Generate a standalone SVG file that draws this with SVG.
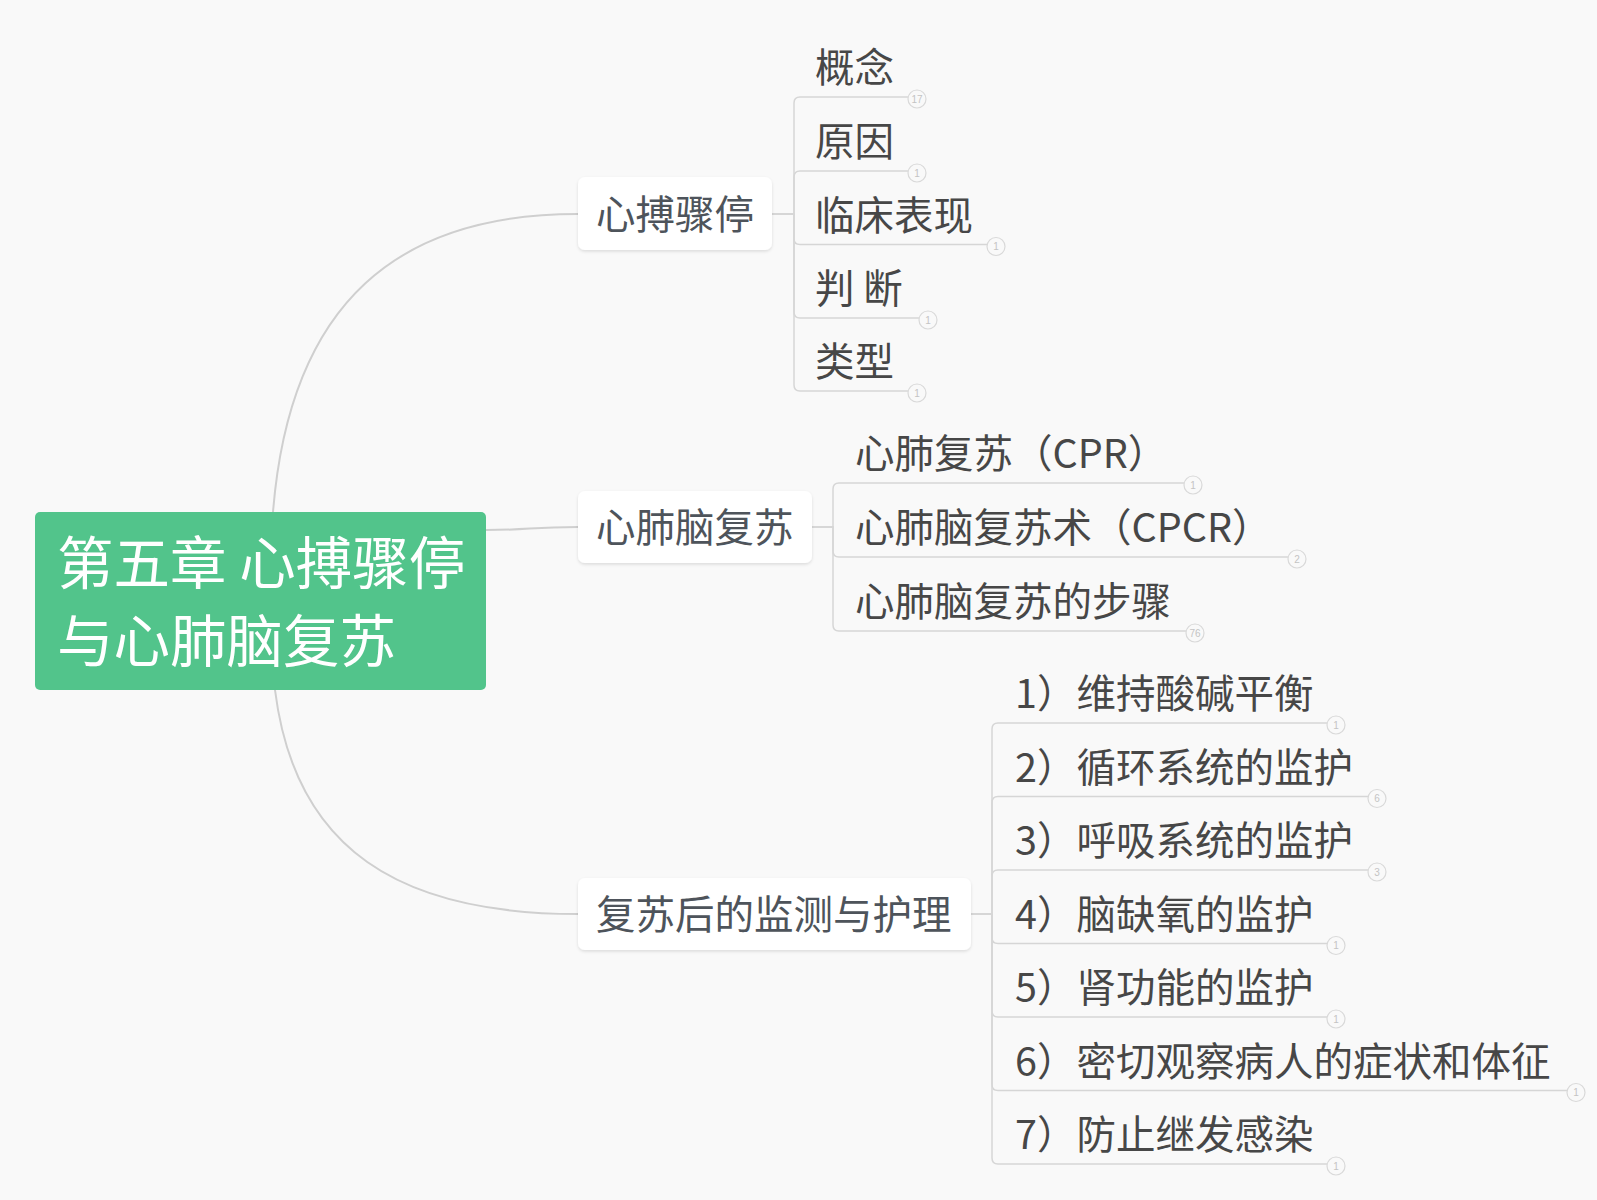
<svg xmlns="http://www.w3.org/2000/svg" width="1597" height="1200" viewBox="0 0 1597 1200">
<style>
.bg{fill:#f9f9f9}
.main{fill:none;stroke:#cfcfcf;stroke-width:2}
.leafline{fill:none;stroke:#d6d6d6;stroke-width:1.5}
.box{fill:#ffffff}
.root{fill:#52c48b}
.rt{font-family:"Noto Sans CJK SC","Noto Sans",sans-serif;font-size:56.5px;fill:#ffffff}
.nt{font-family:"Noto Sans CJK SC","Noto Sans",sans-serif;font-size:39.5px;fill:#4e545b}
.lt{font-family:"Noto Sans CJK SC","Noto Sans",sans-serif;font-size:39.5px;fill:#474747}
.bc{fill:#f9f9f9;stroke:#d9d9d9;stroke-width:1.2}
.bt{font-family:"Liberation Sans","Noto Sans",sans-serif;font-size:10px;fill:#c4c4c4;text-anchor:middle}
</style>
<defs>
<filter id="sh" x="-10%" y="-20%" width="120%" height="150%">
<feDropShadow dx="0" dy="1.5" stdDeviation="1.5" flood-color="#000" flood-opacity="0.12"/>
</filter>
</defs>
<rect class="bg" x="0" y="0" width="1597" height="1200"/>

<g id="connectors">
<path class="main" d="M 273 512 C 290 300, 400 214, 578 214"/>
<path class="main" d="M 486 530 C 530 530, 530 527, 578 527"/>
<path class="main" d="M 275 690 C 295 850, 400 914, 578 914"/>

<path class="leafline" d="M 772 214 H 794 V 103 Q 794 97 800 97 H 908"/>
<path class="leafline" d="M 772 214 H 794 V 177 Q 794 171 800 171 H 908"/>
<path class="leafline" d="M 772 214 H 794 V 238.5 Q 794 244.5 800 244.5 H 987"/>
<path class="leafline" d="M 772 214 H 794 V 312 Q 794 318 800 318 H 919"/>
<path class="leafline" d="M 772 214 H 794 V 385 Q 794 391 800 391 H 908"/>

<path class="leafline" d="M 812 527 H 833 V 489 Q 833 483 839 483 H 1184"/>
<path class="leafline" d="M 812 527 H 833 V 551 Q 833 557 839 557 H 1288"/>
<path class="leafline" d="M 812 527 H 833 V 625 Q 833 631 839 631 H 1186"/>

<path class="leafline" d="M 971 914 H 992 V 729 Q 992 723 998 723 H 1327"/>
<path class="leafline" d="M 971 914 H 992 V 802.5 Q 992 796.5 998 796.5 H 1368"/>
<path class="leafline" d="M 971 914 H 992 V 876 Q 992 870 998 870 H 1368"/>
<path class="leafline" d="M 971 914 H 992 V 937.5 Q 992 943.5 998 943.5 H 1327"/>
<path class="leafline" d="M 971 914 H 992 V 1011 Q 992 1017 998 1017 H 1327"/>
<path class="leafline" d="M 971 914 H 992 V 1084.5 Q 992 1090.5 998 1090.5 H 1567"/>
<path class="leafline" d="M 971 914 H 992 V 1158 Q 992 1164 998 1164 H 1327"/>
</g>

<g id="root">
<rect class="root" x="35" y="512" width="451" height="178" rx="5"/>
<text class="rt" x="57" y="584">第五章 心搏骤停</text>
<text class="rt" x="57" y="662">与心肺脑复苏</text>
</g>

<g id="n1">
<rect class="box" x="578" y="177" width="194" height="73" rx="7" filter="url(#sh)"/>
<text class="nt" x="596" y="228.5">心搏骤停</text>
</g>
<g id="n2">
<rect class="box" x="578" y="491" width="234" height="72" rx="7" filter="url(#sh)"/>
<text class="nt" x="596" y="541.5">心肺脑复苏</text>
</g>
<g id="n3">
<rect class="box" x="578" y="878" width="393" height="72" rx="7" filter="url(#sh)"/>
<text class="nt" x="596" y="928.5">复苏后的监测与护理</text>
</g>

<g id="l1-1"><text class="lt" x="815" y="82">概念</text><circle class="bc" cx="917" cy="99" r="9"/><text class="bt" x="917" y="102.5">17</text></g>
<g id="l1-2"><text class="lt" x="815" y="156">原因</text><circle class="bc" cx="917" cy="173" r="9"/><text class="bt" x="917" y="176.5">1</text></g>
<g id="l1-3"><text class="lt" x="815" y="229.5">临床表现</text><circle class="bc" cx="996" cy="246.5" r="9"/><text class="bt" x="996" y="250">1</text></g>
<g id="l1-4"><text class="lt" x="815" y="303">判 断</text><circle class="bc" cx="928" cy="320" r="9"/><text class="bt" x="928" y="323.5">1</text></g>
<g id="l1-5"><text class="lt" x="815" y="376">类型</text><circle class="bc" cx="917" cy="393" r="9"/><text class="bt" x="917" y="396.5">1</text></g>

<g id="l2-1"><text class="lt" x="855" y="468">心肺复苏（CPR）</text><circle class="bc" cx="1193" cy="485" r="9"/><text class="bt" x="1193" y="488.5">1</text></g>
<g id="l2-2"><text class="lt" x="855" y="542">心肺脑复苏术（CPCR）</text><circle class="bc" cx="1297" cy="559" r="9"/><text class="bt" x="1297" y="562.5">2</text></g>
<g id="l2-3"><text class="lt" x="855" y="616">心肺脑复苏的步骤</text><circle class="bc" cx="1195" cy="633" r="9"/><text class="bt" x="1195" y="636.5">76</text></g>

<g id="l3-1"><text class="lt" x="1015" y="708">1）维持酸碱平衡</text><circle class="bc" cx="1336" cy="725" r="9"/><text class="bt" x="1336" y="728.5">1</text></g>
<g id="l3-2"><text class="lt" x="1015" y="781.5">2）循环系统的监护</text><circle class="bc" cx="1377" cy="798.5" r="9"/><text class="bt" x="1377" y="802">6</text></g>
<g id="l3-3"><text class="lt" x="1015" y="855">3）呼吸系统的监护</text><circle class="bc" cx="1377" cy="872" r="9"/><text class="bt" x="1377" y="875.5">3</text></g>
<g id="l3-4"><text class="lt" x="1015" y="928.5">4）脑缺氧的监护</text><circle class="bc" cx="1336" cy="945.5" r="9"/><text class="bt" x="1336" y="949">1</text></g>
<g id="l3-5"><text class="lt" x="1015" y="1002">5）肾功能的监护</text><circle class="bc" cx="1336" cy="1019" r="9"/><text class="bt" x="1336" y="1022.5">1</text></g>
<g id="l3-6"><text class="lt" x="1015" y="1075.5">6）密切观察病人的症状和体征</text><circle class="bc" cx="1576" cy="1092.5" r="9"/><text class="bt" x="1576" y="1096">1</text></g>
<g id="l3-7"><text class="lt" x="1015" y="1149">7）防止继发感染</text><circle class="bc" cx="1336" cy="1166" r="9"/><text class="bt" x="1336" y="1169.5">1</text></g>
</svg>
